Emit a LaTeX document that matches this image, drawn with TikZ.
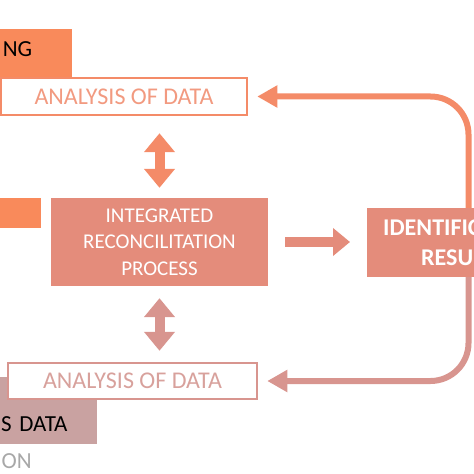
\documentclass[tikz,border=0pt]{standalone}
\usepackage{fontspec}
\setmainfont{Carlito}
\usepackage{tikz}
\usetikzlibrary{arrows.meta}
\usepackage{xcolor}
\definecolor{ngorange}{HTML}{F98A5B}
\definecolor{toporange}{HTML}{F48B68}
\definecolor{topatext}{HTML}{F29A80}
\definecolor{procsalmon}{HTML}{E48C7B}
\definecolor{lowpink}{HTML}{D8958F}
\definecolor{lowatext}{HTML}{D8A19C}
\definecolor{rosegrey}{HTML}{C9A2A1}
\definecolor{ongrey}{HTML}{A8A8A8}

\begin{document}
\begin{tikzpicture}[x=1bp,y=-1bp,
   fillbox/.style={rectangle,draw=none,inner sep=0pt},
   anabox/.style={rectangle,draw,fill=white,line width=2.5bp,inner sep=0pt,minimum height=37bp,font=\fontsize{24bp}{28bp}\selectfont},
   cutlabel/.style={font=\fontsize{23bp}{27bp}\selectfont},
   dbl/.style={{Triangle[length=19bp,width=30bp]}-{Triangle[length=19bp,width=30bp]},line width=10bp},
   fwd/.style={-{Triangle[length=17bp,width=27bp]},line width=10bp,draw=procsalmon,shorten <=17bp,shorten >=17bp},
   back/.style={-{Triangle[length=20bp,width=21bp]},line width=6bp,rounded corners=38bp,shorten >=9bp}]
   \clip (0,0) rectangle (474,474);
   % boxes on the left edge
   \node[fillbox,fill=ngorange,anchor=south east,text width=66bp,inner xsep=3bp,align=left,
         text height=28bp,text depth=21bp,cutlabel] (ng) at (72,78) {NG};
   \node[fillbox,fill=ngorange,anchor=north east,minimum width=41bp,minimum height=30bp] (mid) at (41,198) {};
   \node[fillbox,fill=rosegrey,anchor=south west,text width=95bp,inner xsep=1bp,align=left,
         text height=55bp,text depth=12bp,cutlabel] (sd) at (0,444) {S DATA};
   \node[anchor=base west,inner sep=0pt,text=ongrey,cutlabel] (on) at (1.5,468) {ON};
   % main boxes
   \node[anabox,draw=toporange,text=topatext,minimum width=246bp] (ana1) at (124,96.5) {ANALYSIS OF DATA};
   \node[anabox,draw=lowpink,text=lowatext,minimum width=249bp,minimum height=36bp] (ana2) at (132.5,381) {ANALYSIS OF DATA};
   \node[fillbox,fill=procsalmon,text=white,minimum width=217bp,minimum height=88bp,align=center,
         font=\fontsize{21bp}{26.5bp}\selectfont] (proc) at (159.5,242) {INTEGRATED\\RECONCILITATION\\PROCESS};
   \node[fillbox,fill=procsalmon,text=white,anchor=west,text width=130bp,inner xsep=16bp,minimum height=69bp,align=left,
         font=\fontsize{24bp}{30bp}\selectfont\bfseries] (idf) at (367,242.5) {IDENTIFIC\\\hspace*{38bp}RESU};
   \coordinate (rx) at (468.5,0);
   % connectors
   \draw[dbl,draw=toporange,shorten <=17bp,shorten >=10bp] (proc.north |- ana1.south) -- (proc.north);
   \draw[dbl,draw=lowpink,shorten <=12bp,shorten >=11bp] (proc.south) -- (proc.south |- ana2.north);
   \draw[fwd] (proc.east) -- (proc.east -| idf.west);
   \draw[back,draw=toporange] (idf.north -| rx) |- (ana1.east);
   \draw[back,draw=lowpink] (idf.south -| rx) |- (ana2.east);
\end{tikzpicture}
\end{document}
